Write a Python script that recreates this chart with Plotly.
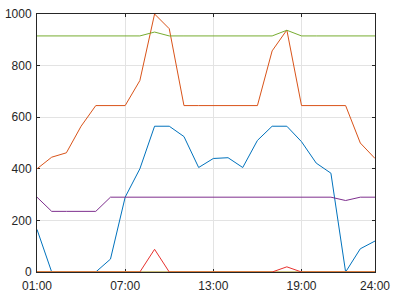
import plotly.graph_objects as go

hours = list(range(1, 25))
tick_vals = [1, 7, 13, 19, 24]
tick_text = ["01:00", "07:00", "13:00", "19:00", "24:00"]

blue = [165, 0, 0, 0, 0, 50, 290, 400, 565, 565, 525, 405, 440, 443, 405, 510, 565, 565, 505, 422, 383, 0, 90, 120]
orange = [400, 445, 462, 565, 645, 645, 645, 742, 1000, 943, 645, 645, 645, 645, 645, 645, 857, 938, 645, 645, 645, 645, 500, 440]
yellow = [0] * 24
purple = [290, 235, 235, 235, 235, 290, 290, 290, 290, 290, 290, 290, 290, 290, 290, 290, 290, 290, 290, 290, 290, 277, 290, 290]
green = [915, 915, 915, 915, 915, 915, 915, 915, 930, 915, 915, 915, 915, 915, 915, 915, 915, 937, 915, 915, 915, 915, 915, 915]
red = [0, 0, 0, 0, 0, 0, 0, 0, 88, 0, 0, 0, 0, 0, 0, 0, 0, 20, 0, 0, 0, 0, 0, 0]
orange_low = [0, 0, 0, 0, 0, 0, 0, 0, None, 0, 0, 0, 0, 0, 0, 0, 0, None, 0, 0, 0, 0, 0, 0]

series = [
    (blue, "#0072BD", 1.0),
    (orange, "#D95319", 1.0),
    (yellow, "#BCA64C", 1.6),
    (purple, "#7E2F8E", 1.0),
    (green, "#77AC30", 1.0),
    (red, "#E8312E", 1.0),
    (orange_low, "#D9823A", 1.6),
]

fig = go.Figure()
for ys, col, w in series:
    fig.add_trace(go.Scatter(x=hours, y=ys, mode="lines",
                             line=dict(color=col, width=w), showlegend=False,
                             hoverinfo="skip", cliponaxis=False))

axis_common = dict(
    showline=True, linecolor="#262626", linewidth=1, mirror="ticks",
    ticks="inside", ticklen=3, tickwidth=1, tickcolor="#262626",
    showgrid=True, gridcolor="#e3e3e3", gridwidth=1, zeroline=False,
    tickfont=dict(family="Liberation Sans, Arial, sans-serif", size=12, color="#262626"),
    layer="below traces", automargin=False,
)

fig.update_layout(
    width=395, height=297,
    margin=dict(l=37, r=20, t=14, b=25),
    paper_bgcolor="white", plot_bgcolor="white",
    xaxis=dict(range=[1, 24], tickvals=tick_vals, ticktext=tick_text,
               ticklabelstandoff=3, **axis_common),
    yaxis=dict(range=[0, 1000], tickvals=[0, 200, 400, 600, 800, 1000],
               ticklabelstandoff=2, **axis_common),
)

fig.write_html("out.html")
